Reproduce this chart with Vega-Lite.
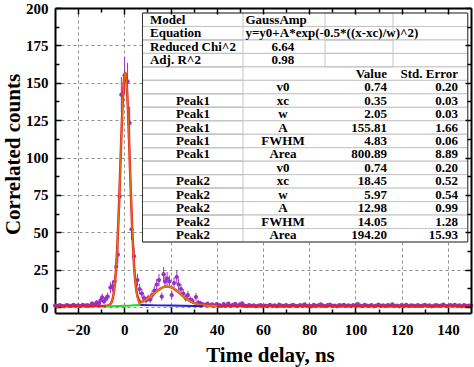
{
  "$schema": "https://vega.github.io/schema/vega-lite/v6.json",
  "width": 416,
  "height": 305,
  "autosize": "none",
  "padding": {"left": 55, "top": 8, "right": 3, "bottom": 54},
  "background": "white",
  "config": {
    "view": {"stroke": null},
    "axis": {
      "labelFont": "Liberation Serif", "labelFontWeight": "bold", "labelFontSize": 15, "labelColor": "#000",
      "tickColor": "#000", "tickWidth": 1.5, "domainColor": "#000", "domainWidth": 2,
      "titleFont": "Liberation Serif", "titleFontWeight": "bold", "titleFontSize": 21, "titleColor": "#000",
      "grid": false, "gridColor": "#909090", "gridDash": [3, 3], "gridWidth": 1
    }
  },
  "datasets": {
    "obs": [
      {"t": -30, "c": 1.0, "e": 1.0}, {"t": -29, "c": 0.6, "e": 1.0}, {"t": -28, "c": 1.2, "e": 1.0}, {"t": -27, "c": 0.8, "e": 1.0},
      {"t": -26, "c": 0.5, "e": 1.0}, {"t": -25, "c": 1.3, "e": 1.0}, {"t": -24, "c": 0.9, "e": 1.0}, {"t": -23, "c": 0.7, "e": 1.0},
      {"t": -22, "c": 1.4, "e": 1.0}, {"t": -21, "c": 0.8, "e": 1.0}, {"t": -20, "c": 1.1, "e": 1.0}, {"t": -19, "c": 0.6, "e": 1.0},
      {"t": -18, "c": 1.5, "e": 1.0}, {"t": -17, "c": 0.9, "e": 1.0}, {"t": -16, "c": 1.2, "e": 1.0}, {"t": -15, "c": 0.8, "e": 1.0},
      {"t": -14, "c": 2.2, "e": 1.5}, {"t": -13, "c": 1.6, "e": 1.3}, {"t": -12, "c": 3.0, "e": 1.7}, {"t": -11, "c": 2.4, "e": 1.5},
      {"t": -10.3, "c": 4.5, "e": 2.1}, {"t": -9.6, "c": 6.5, "e": 2.5}, {"t": -8.8, "c": 3.8, "e": 1.9}, {"t": -8, "c": 5.5, "e": 2.3},
      {"t": -7.2, "c": 7.0, "e": 2.6}, {"t": -6, "c": 13, "e": 3.6}, {"t": -5.1, "c": 14, "e": 3.7}, {"t": -4.2, "c": 17, "e": 4.1},
      {"t": -3.5, "c": 27, "e": 5.2}, {"t": -2.8, "c": 35, "e": 5.9}, {"t": -2.05, "c": 74, "e": 8.6}, {"t": -1.3, "c": 142, "e": 11.9},
      {"t": 0.1, "c": 155, "e": 12.4}, {"t": 1.4, "c": 151, "e": 12.3}, {"t": 2.3, "c": 123, "e": 11.1}, {"t": 3.1, "c": 52, "e": 7.2},
      {"t": 4.2, "c": 34, "e": 5.8}, {"t": 5.7, "c": 18, "e": 4.2}, {"t": 6.6, "c": 12, "e": 3.5}, {"t": 7.6, "c": 9, "e": 3.0},
      {"t": 8.5, "c": 6, "e": 2.4}, {"t": 9.4, "c": 4.5, "e": 2.1}, {"t": 10.3, "c": 6, "e": 2.4}, {"t": 11.2, "c": 5, "e": 2.2},
      {"t": 12, "c": 8, "e": 2.8}, {"t": 13, "c": 11, "e": 3.3}, {"t": 14, "c": 15, "e": 3.9}, {"t": 15, "c": 18, "e": 4.2},
      {"t": 16.2, "c": 7, "e": 2.6}, {"t": 17, "c": 22, "e": 4.7}, {"t": 17.6, "c": 17, "e": 4.1}, {"t": 18.5, "c": 19, "e": 4.4},
      {"t": 19.5, "c": 17, "e": 4.1}, {"t": 20.5, "c": 8, "e": 2.8}, {"t": 21.5, "c": 16, "e": 4.0}, {"t": 22.7, "c": 20, "e": 4.5},
      {"t": 23.5, "c": 15, "e": 3.9}, {"t": 24.5, "c": 12, "e": 3.5}, {"t": 25.5, "c": 9, "e": 3.0}, {"t": 26.5, "c": 6, "e": 2.4},
      {"t": 27.5, "c": 8, "e": 2.8}, {"t": 28.5, "c": 5, "e": 2.2}, {"t": 29.5, "c": 4, "e": 2.0}, {"t": 31, "c": 6.7, "e": 2.6},
      {"t": 32, "c": 3, "e": 1.7}, {"t": 33, "c": 2.5, "e": 1.6}, {"t": 34, "c": 1.8, "e": 1.3},
      {"t": 35, "c": 1.4, "e": 1.0}, {"t": 36, "c": 2.2, "e": 1.0}, {"t": 37, "c": 1.1, "e": 1.0}, {"t": 38, "c": 1.8, "e": 1.0},
      {"t": 39, "c": 0.9, "e": 1.0}, {"t": 40, "c": 2.0, "e": 1.0}, {"t": 41, "c": 1.2, "e": 1.0}, {"t": 42, "c": 0.7, "e": 1.0},
      {"t": 43, "c": 1.9, "e": 1.0}, {"t": 44, "c": 1.0, "e": 1.0}, {"t": 45, "c": 2.3, "e": 1.0}, {"t": 46, "c": 0.8, "e": 1.0},
      {"t": 47, "c": 1.5, "e": 1.0}, {"t": 48, "c": 2.1, "e": 1.0}, {"t": 49, "c": 0.9, "e": 1.0}, {"t": 50, "c": 1.7, "e": 1.0},
      {"t": 51, "c": 2.4, "e": 1.0}, {"t": 52, "c": 1.0, "e": 1.0}, {"t": 53, "c": 0.6, "e": 1.0}, {"t": 54, "c": 1.3, "e": 1.0},
      {"t": 55, "c": 0.8, "e": 1.0}, {"t": 56, "c": 1.1, "e": 1.0}, {"t": 57, "c": 0.5, "e": 1.0}, {"t": 58, "c": 0.9, "e": 1.0},
      {"t": 59, "c": 1.2, "e": 1.0}, {"t": 60, "c": 0.7, "e": 1.0}, {"t": 61, "c": 1.0, "e": 1.0}, {"t": 62, "c": 0.6, "e": 1.0},
      {"t": 63, "c": 1.4, "e": 1.0}, {"t": 64, "c": 0.8, "e": 1.0}, {"t": 65, "c": 1.1, "e": 1.0}, {"t": 66, "c": 0.5, "e": 1.0},
      {"t": 67, "c": 1.6, "e": 1.0}, {"t": 68, "c": 0.9, "e": 1.0}, {"t": 69, "c": 0.7, "e": 1.0}, {"t": 70, "c": 1.3, "e": 1.0},
      {"t": 71, "c": 0.6, "e": 1.0}, {"t": 72, "c": 1.0, "e": 1.0}, {"t": 73, "c": 1.5, "e": 1.0}, {"t": 74, "c": 0.8, "e": 1.0},
      {"t": 75, "c": 0.6, "e": 1.0}, {"t": 76, "c": 1.2, "e": 1.0}, {"t": 77, "c": 0.9, "e": 1.0}, {"t": 78, "c": 1.7, "e": 1.0},
      {"t": 79, "c": 0.7, "e": 1.0}, {"t": 80, "c": 1.0, "e": 1.0}, {"t": 81, "c": 0.5, "e": 1.0}, {"t": 82, "c": 1.4, "e": 1.0},
      {"t": 83, "c": 0.8, "e": 1.0}, {"t": 84, "c": 1.1, "e": 1.0}, {"t": 85, "c": 1.8, "e": 1.0}, {"t": 86, "c": 0.9, "e": 1.0},
      {"t": 87, "c": 0.6, "e": 1.0}, {"t": 88, "c": 1.3, "e": 1.0}, {"t": 89, "c": 1.6, "e": 1.0}, {"t": 90, "c": 0.7, "e": 1.0},
      {"t": 91, "c": 1.0, "e": 1.0}, {"t": 92, "c": 0.5, "e": 1.0}, {"t": 93, "c": 1.2, "e": 1.0}, {"t": 94, "c": 0.9, "e": 1.0},
      {"t": 95, "c": 1.5, "e": 1.0}, {"t": 96, "c": 0.7, "e": 1.0}, {"t": 97, "c": 1.1, "e": 1.0}, {"t": 98, "c": 0.6, "e": 1.0},
      {"t": 99, "c": 1.3, "e": 1.0}, {"t": 100, "c": 0.8, "e": 1.0}, {"t": 101, "c": 1.9, "e": 1.0}, {"t": 102, "c": 1.0, "e": 1.0},
      {"t": 103, "c": 0.6, "e": 1.0}, {"t": 104, "c": 1.4, "e": 1.0}, {"t": 105, "c": 0.9, "e": 1.0}, {"t": 106, "c": 0.7, "e": 1.0},
      {"t": 107, "c": 1.2, "e": 1.0}, {"t": 108, "c": 0.5, "e": 1.0}, {"t": 109, "c": 1.0, "e": 1.0}, {"t": 110, "c": 1.6, "e": 1.0},
      {"t": 111, "c": 0.8, "e": 1.0}, {"t": 112, "c": 1.1, "e": 1.0}, {"t": 113, "c": 0.6, "e": 1.0}, {"t": 114, "c": 1.3, "e": 1.0},
      {"t": 115, "c": 0.9, "e": 1.0}, {"t": 116, "c": 1.7, "e": 1.0}, {"t": 117, "c": 0.7, "e": 1.0}, {"t": 118, "c": 1.0, "e": 1.0},
      {"t": 119, "c": 0.5, "e": 1.0}, {"t": 120, "c": 1.2, "e": 1.0}, {"t": 121, "c": 0.8, "e": 1.0}, {"t": 122, "c": 1.4, "e": 1.0},
      {"t": 123, "c": 0.6, "e": 1.0}, {"t": 124, "c": 1.1, "e": 1.0}, {"t": 125, "c": 0.9, "e": 1.0}, {"t": 126, "c": 0.7, "e": 1.0},
      {"t": 127, "c": 1.3, "e": 1.0}, {"t": 128, "c": 0.6, "e": 1.0}, {"t": 129, "c": 1.0, "e": 1.0}, {"t": 130, "c": 1.5, "e": 1.0},
      {"t": 131, "c": 0.8, "e": 1.0}, {"t": 132, "c": 1.1, "e": 1.0}, {"t": 133, "c": 0.5, "e": 1.0}, {"t": 134, "c": 0.9, "e": 1.0},
      {"t": 135, "c": 1.3, "e": 1.0}, {"t": 136, "c": 0.7, "e": 1.0}, {"t": 137, "c": 1.0, "e": 1.0}, {"t": 138, "c": 1.6, "e": 1.0},
      {"t": 139, "c": 0.8, "e": 1.0}, {"t": 140, "c": 0.6, "e": 1.0}, {"t": 141, "c": 1.2, "e": 1.0}, {"t": 142, "c": 0.9, "e": 1.0},
      {"t": 143, "c": 1.4, "e": 1.0}, {"t": 144, "c": 0.7, "e": 1.0}, {"t": 145, "c": 1.1, "e": 1.0}, {"t": 146, "c": 0.5, "e": 1.0},
      {"t": 147, "c": 1.3, "e": 1.0}, {"t": 148, "c": 0.8, "e": 1.0}, {"t": 149, "c": 1.0, "e": 1.0}, {"t": 150, "c": 0.9, "e": 1.0}
    ],
    "fit": [
      {"t": -30, "f": 0.74}, {"t": -20, "f": 0.74}, {"t": -12, "f": 0.74}, {"t": -9, "f": 0.745}, {"t": -8, "f": 0.78},
      {"t": -7.5, "f": 0.84}, {"t": -7, "f": 0.99}, {"t": -6.5, "f": 1.33}, {"t": -6, "f": 2.03}, {"t": -5.5, "f": 3.4},
      {"t": -5, "f": 5.91}, {"t": -4.5, "f": 10.22}, {"t": -4, "f": 17.16}, {"t": -3.5, "f": 27.47}, {"t": -3, "f": 41.77},
      {"t": -2.5, "f": 60.08}, {"t": -2, "f": 81.55}, {"t": -1.5, "f": 104.55}, {"t": -1, "f": 126.3}, {"t": -0.5, "f": 143.8},
      {"t": 0, "f": 154.4}, {"t": 0.35, "f": 156.7}, {"t": 0.5, "f": 156.3}, {"t": 1, "f": 149.1}, {"t": 1.5, "f": 134.1},
      {"t": 2, "f": 113.7}, {"t": 2.5, "f": 91.0}, {"t": 3, "f": 68.8}, {"t": 3.5, "f": 49.0}, {"t": 4, "f": 33.4},
      {"t": 4.5, "f": 21.7}, {"t": 5, "f": 13.7}, {"t": 5.5, "f": 8.6}, {"t": 6, "f": 5.7}, {"t": 6.5, "f": 4.22},
      {"t": 7, "f": 3.61}, {"t": 7.5, "f": 3.51}, {"t": 8, "f": 3.69}, {"t": 9, "f": 4.47}, {"t": 10, "f": 5.51},
      {"t": 11, "f": 6.7}, {"t": 12, "f": 7.98}, {"t": 13, "f": 9.3}, {"t": 14, "f": 10.57}, {"t": 16, "f": 12.67},
      {"t": 18, "f": 13.68}, {"t": 20, "f": 13.29}, {"t": 22, "f": 11.62}, {"t": 24, "f": 9.17}, {"t": 26, "f": 6.57},
      {"t": 28, "f": 4.35}, {"t": 30, "f": 2.74}, {"t": 32, "f": 1.73}, {"t": 34, "f": 1.18}, {"t": 36, "f": 0.91},
      {"t": 38, "f": 0.8}, {"t": 40, "f": 0.76}, {"t": 44, "f": 0.74}, {"t": 150, "f": 0.74}
    ],
    "peak1": [
      {"t": -8, "f": 0.78}, {"t": -7, "f": 0.99}, {"t": -6.5, "f": 1.33}, {"t": -6, "f": 2.03}, {"t": -5.5, "f": 3.4},
      {"t": -5, "f": 5.91}, {"t": -4.5, "f": 10.22}, {"t": -4, "f": 17.15}, {"t": -3.5, "f": 27.46}, {"t": -3, "f": 41.75},
      {"t": -2.5, "f": 60.05}, {"t": -2, "f": 81.51}, {"t": -1.5, "f": 104.47}, {"t": -1, "f": 126.19}, {"t": -0.5, "f": 143.71},
      {"t": 0, "f": 154.29}, {"t": 0.35, "f": 156.55}, {"t": 0.5, "f": 156.13}, {"t": 1, "f": 148.92}, {"t": 1.5, "f": 133.86},
      {"t": 2, "f": 113.44}, {"t": 2.5, "f": 90.63}, {"t": 3, "f": 68.31}, {"t": 3.5, "f": 48.59}, {"t": 4, "f": 32.67},
      {"t": 4.5, "f": 20.81}, {"t": 5, "f": 12.63}, {"t": 5.5, "f": 7.38}, {"t": 6, "f": 4.23}, {"t": 6.5, "f": 2.47},
      {"t": 7, "f": 1.55}, {"t": 8, "f": 0.89}
    ],
    "peak2": [
      {"t": 6, "f": 2.22}, {"t": 7, "f": 2.8}, {"t": 8, "f": 3.55}, {"t": 9, "f": 4.45}, {"t": 10, "f": 5.51},
      {"t": 11, "f": 6.7}, {"t": 12, "f": 7.98}, {"t": 13, "f": 9.3}, {"t": 14, "f": 10.57}, {"t": 16, "f": 12.67},
      {"t": 18, "f": 13.68}, {"t": 20, "f": 13.29}, {"t": 22, "f": 11.62}, {"t": 24, "f": 9.17}, {"t": 26, "f": 6.57},
      {"t": 28, "f": 4.35}, {"t": 30, "f": 2.74}, {"t": 32, "f": 1.73}, {"t": 34, "f": 1.18}, {"t": 36, "f": 0.91},
      {"t": 38, "f": 0.8}, {"t": 40, "f": 0.76}
    ],
    "green": [{"t": -8, "f": 0.3}, {"t": -2, "f": 0.7}, {"t": 3, "f": 1.0}, {"t": 7, "f": 1.4}],
    "blue": [{"t": 7, "f": 1.4}, {"t": 15, "f": 1.1}, {"t": 25, "f": 0.8}, {"t": 34, "f": 0.5}],
    "tbl": [
      {"row": 0, "lab": "Model", "eq": "GaussAmp"},
      {"row": 1, "lab": "Equation", "eq": "y=y0+A*exp(-0.5*((x-xc)/w)^2)"},
      {"row": 2, "lab": "Reduced Chi^2", "p": "6.64"},
      {"row": 3, "lab": "Adj. R^2", "p": "0.98"},
      {"row": 4, "val": "Value", "err": "Std. Error"},
      {"row": 5, "p": "v0", "val": "0.74", "err": "0.20"},
      {"row": 6, "pk": "Peak1", "p": "xc", "val": "0.35", "err": "0.03"},
      {"row": 7, "pk": "Peak1", "p": "w", "val": "2.05", "err": "0.03"},
      {"row": 8, "pk": "Peak1", "p": "A", "val": "155.81", "err": "1.66"},
      {"row": 9, "pk": "Peak1", "p": "FWHM", "val": "4.83", "err": "0.06"},
      {"row": 10, "pk": "Peak1", "p": "Area", "val": "800.89", "err": "8.89"},
      {"row": 11, "p": "v0", "val": "0.74", "err": "0.20"},
      {"row": 12, "pk": "Peak2", "p": "xc", "val": "18.45", "err": "0.52"},
      {"row": 13, "pk": "Peak2", "p": "w", "val": "5.97", "err": "0.54"},
      {"row": 14, "pk": "Peak2", "p": "A", "val": "12.98", "err": "0.99"},
      {"row": 15, "pk": "Peak2", "p": "FWHM", "val": "14.05", "err": "1.28"},
      {"row": 16, "pk": "Peak2", "p": "Area", "val": "194.20", "err": "15.93"}
    ]
  },
  "layer": [
    {
      "layer": [
        {
          "data": {"name": "obs"},
          "mark": {"type": "errorbar", "color": "#9a30c8", "thickness": 1},
          "encoding": {
            "x": {"field": "t", "type": "quantitative", "scale": {"domain": [-30, 150], "nice": false, "zero": false}, "axis": null},
            "y": {"field": "c", "type": "quantitative", "scale": {"domain": [-4, 200], "nice": false, "zero": false}, "axis": null},
            "yError": {"field": "e"}
          }
        },
        {
          "data": {"name": "obs"},
          "mark": {"type": "point", "shape": "circle", "filled": true, "size": 18, "color": "#9a30c8", "opacity": 1},
          "encoding": {
            "x": {"field": "t", "type": "quantitative", "scale": {"domain": [-30, 150], "nice": false, "zero": false},
              "axis": {"orient": "bottom", "values": [-20, 0, 20, 40, 60, 80, 100, 120, 140], "grid": true, "tickSize": -6, "labelPadding": 15, "title": "Time delay, ns", "titlePadding": 7, "titleX": 215}},
            "y": {"field": "c", "type": "quantitative", "scale": {"domain": [-4, 200], "nice": false, "zero": false},
              "axis": {"orient": "left", "values": [0, 25, 50, 75, 100, 125, 150, 175, 200], "grid": true, "tickSize": -6, "labelPadding": 13, "title": "Correlated counts", "titlePadding": 2, "titleY": 146}}
          }
        },
        {
          "data": {"name": "fit"},
          "mark": {"type": "line", "color": "#e0251c", "strokeWidth": 2.5, "interpolate": "monotone"},
          "encoding": {
            "x": {"field": "t", "type": "quantitative", "scale": {"domain": [-30, 150], "nice": false, "zero": false},
              "axis": {"orient": "bottom", "values": [-10, 10, 30, 50, 70, 90, 110, 130], "tickSize": -4, "labels": false, "domain": false, "title": null}},
            "y": {"field": "f", "type": "quantitative", "scale": {"domain": [-4, 200], "nice": false, "zero": false},
              "axis": {"orient": "left", "values": [12.5, 37.5, 62.5, 87.5, 112.5, 137.5, 162.5, 187.5], "tickSize": -4, "labels": false, "domain": false, "title": null}}
          }
        },
        {
          "data": {"name": "peak1"},
          "mark": {"type": "line", "color": "#e0701c", "strokeWidth": 1.3, "interpolate": "monotone"},
          "encoding": {
            "x": {"field": "t", "type": "quantitative", "scale": {"domain": [-30, 150], "nice": false, "zero": false}, "axis": null},
            "y": {"field": "f", "type": "quantitative", "scale": {"domain": [-4, 200], "nice": false, "zero": false}, "axis": null}
          }
        },
        {
          "data": {"name": "peak2"},
          "mark": {"type": "line", "color": "#d8781c", "strokeWidth": 2, "interpolate": "monotone"},
          "encoding": {
            "x": {"field": "t", "type": "quantitative", "scale": {"domain": [-30, 150], "nice": false, "zero": false}, "axis": null},
            "y": {"field": "f", "type": "quantitative", "scale": {"domain": [-4, 200], "nice": false, "zero": false}, "axis": null}
          }
        },
        {
          "data": {"name": "green"},
          "mark": {"type": "line", "color": "#22d822", "strokeWidth": 2, "interpolate": "monotone"},
          "encoding": {
            "x": {"field": "t", "type": "quantitative", "scale": {"domain": [-30, 150], "nice": false, "zero": false},
              "axis": {"orient": "top", "values": [-20, 0, 20, 40, 60, 80, 100, 120, 140], "tickSize": -6, "labels": false, "domain": true, "title": null, "zindex": 1}},
            "y": {"field": "f", "type": "quantitative", "scale": {"domain": [-4, 200], "nice": false, "zero": false},
              "axis": {"orient": "right", "values": [0, 25, 50, 75, 100, 125, 150, 175, 200], "tickSize": -6, "labels": false, "domain": true, "title": null, "zindex": 1}}
          }
        },
        {
          "data": {"name": "blue"},
          "mark": {"type": "line", "color": "#2020d8", "strokeWidth": 2, "interpolate": "monotone"},
          "encoding": {
            "x": {"field": "t", "type": "quantitative", "scale": {"domain": [-30, 150], "nice": false, "zero": false},
              "axis": {"orient": "top", "values": [-10, 10, 30, 50, 70, 90, 110, 130], "tickSize": -4, "labels": false, "domain": false, "title": null, "zindex": 1}},
            "y": {"field": "f", "type": "quantitative", "scale": {"domain": [-4, 200], "nice": false, "zero": false},
              "axis": {"orient": "right", "values": [12.5, 37.5, 62.5, 87.5, 112.5, 137.5, 162.5, 187.5], "tickSize": -4, "labels": false, "domain": false, "title": null, "zindex": 1}}
          }
        }
      ],
      "resolve": {"axis": {"x": "independent", "y": "independent"}}
    },
    {
      "data": {"name": "tbl"},
      "layer": [
        {
          "mark": {"type": "rect", "fill": "white", "stroke": "#c4c4c4", "strokeWidth": 1},
          "encoding": {
            "x": {"datum": 7.86, "type": "quantitative", "scale": {"domain": [-30, 150], "nice": false, "zero": false}, "axis": null},
            "x2": {"datum": 148.6},
            "y": {"field": "row", "type": "ordinal", "scale": {"type": "band", "domain": [0, 1, 2, 3, 4, 5, 6, 7, 8, 9, 10, 11, 12, 13, 14, 15, 16], "range": [5, 234], "paddingInner": 0, "paddingOuter": 0}, "axis": null}
          }
        },
        {
          "mark": {"type": "rect", "fill": "transparent", "stroke": "#c4c4c4", "strokeWidth": 1},
          "encoding": {
            "x": {"datum": 7.86, "type": "quantitative", "scale": {"domain": [-30, 150], "nice": false, "zero": false}, "axis": null},
            "x2": {"datum": 51.35},
            "y": {"field": "row", "type": "ordinal", "axis": null}
          }
        },
        {
          "transform": [{"filter": "datum.row <= 3"}],
          "mark": {"type": "rect", "fill": "transparent", "stroke": "#c4c4c4", "strokeWidth": 1},
          "encoding": {
            "x": {"datum": 86.83, "type": "quantitative", "scale": {"domain": [-30, 150], "nice": false, "zero": false}, "axis": null},
            "x2": {"datum": 116.25},
            "y": {"field": "row", "type": "ordinal", "axis": null}
          }
        },
        {
          "transform": [{"filter": "isValid(datum.lab)"}],
          "mark": {"type": "text", "align": "left", "baseline": "middle", "font": "Liberation Serif", "fontWeight": "bold", "fontSize": 13, "color": "#000"},
          "encoding": {
            "x": {"datum": 11.1, "type": "quantitative", "scale": {"domain": [-30, 150], "nice": false, "zero": false}, "axis": null},
            "y": {"field": "row", "type": "ordinal", "axis": null},
            "text": {"field": "lab"}
          }
        },
        {
          "transform": [{"filter": "isValid(datum.pk)"}],
          "mark": {"type": "text", "align": "center", "baseline": "middle", "font": "Liberation Serif", "fontWeight": "bold", "fontSize": 13, "color": "#000"},
          "encoding": {
            "x": {"datum": 29.7, "type": "quantitative", "scale": {"domain": [-30, 150], "nice": false, "zero": false}, "axis": null},
            "y": {"field": "row", "type": "ordinal", "axis": null},
            "text": {"field": "pk"}
          }
        },
        {
          "transform": [{"filter": "isValid(datum.eq)"}],
          "mark": {"type": "text", "align": "left", "baseline": "middle", "font": "Liberation Serif", "fontWeight": "bold", "fontSize": 13, "color": "#000"},
          "encoding": {
            "x": {"datum": 52.4, "type": "quantitative", "scale": {"domain": [-30, 150], "nice": false, "zero": false}, "axis": null},
            "y": {"field": "row", "type": "ordinal", "axis": null},
            "text": {"field": "eq"}
          }
        },
        {
          "transform": [{"filter": "isValid(datum.p)"}],
          "mark": {"type": "text", "align": "center", "baseline": "middle", "font": "Liberation Serif", "fontWeight": "bold", "fontSize": 13, "color": "#000"},
          "encoding": {
            "x": {"datum": 68.65, "type": "quantitative", "scale": {"domain": [-30, 150], "nice": false, "zero": false}, "axis": null},
            "y": {"field": "row", "type": "ordinal", "axis": null},
            "text": {"field": "p"}
          }
        },
        {
          "transform": [{"filter": "isValid(datum.val)"}],
          "mark": {"type": "text", "align": "right", "baseline": "middle", "font": "Liberation Serif", "fontWeight": "bold", "fontSize": 13, "color": "#000"},
          "encoding": {
            "x": {"datum": 113.65, "type": "quantitative", "scale": {"domain": [-30, 150], "nice": false, "zero": false}, "axis": null},
            "y": {"field": "row", "type": "ordinal", "axis": null},
            "text": {"field": "val"}
          }
        },
        {
          "transform": [{"filter": "isValid(datum.err)"}],
          "mark": {"type": "text", "align": "right", "baseline": "middle", "font": "Liberation Serif", "fontWeight": "bold", "fontSize": 13, "color": "#000"},
          "encoding": {
            "x": {"datum": 144.4, "type": "quantitative", "scale": {"domain": [-30, 150], "nice": false, "zero": false}, "axis": null},
            "y": {"field": "row", "type": "ordinal", "axis": null},
            "text": {"field": "err"}
          }
        }
      ]
    },
    {
      "data": {"values": [{}]},
      "mark": {"type": "rect", "fill": "transparent", "stroke": "#333", "strokeWidth": 1},
      "encoding": {
        "x": {"datum": 7.86, "type": "quantitative", "scale": {"domain": [-30, 150], "nice": false, "zero": false}, "axis": null},
        "x2": {"datum": 148.6},
        "y": {"datum": 196.66, "type": "quantitative", "scale": {"domain": [-4, 200], "nice": false, "zero": false}, "axis": null},
        "y2": {"datum": 43.49}
      }
    }
  ],
  "resolve": {"scale": {"y": "independent"}}
}
